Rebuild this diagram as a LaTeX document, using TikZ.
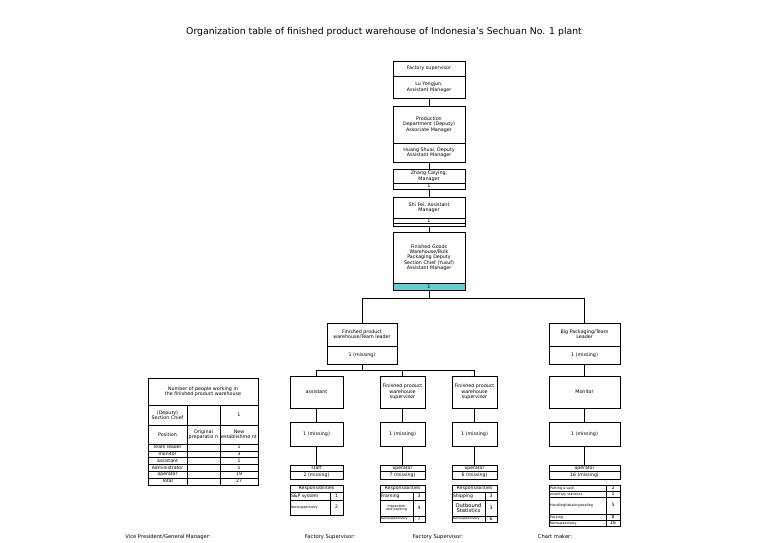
\documentclass[tikz,border=0pt]{standalone}
\usepackage{fontspec}
\setmainfont{DejaVu Sans}
\newcommand\myNoHy{\hyphenpenalty10000\exhyphenpenalty10000\relax}
\begin{document}
\begin{tikzpicture}[x=1pt,y=-1pt,
 bx/.style={draw,line width=0.6pt,inner sep=0.3pt,align=center,font={\fontsize{4.8}{5.4}\selectfont\myNoHy}},
 ln/.style={line width=0.6pt}]
\useasboundingbox (0,0) rectangle (768,543);
\node[font=\fontsize{9.3}{11}\selectfont] (title) at (384,32) {Organization table of finished product warehouse of Indonesia's Sechuan No. 1 plant};
% top chain
\node[bx,minimum width=72,minimum height=15] (a1) at (429,68.5) {Factory supervisor};
\node[bx,minimum width=72,minimum height=22,text width=58] (a2) at (429,87) {Lu Yongjun, Assistant Manager};
\node[bx,minimum width=72,minimum height=37,text width=68] (b1) at (429,124.5) {Production Department (Deputy) Associate Manager};
\node[bx,minimum width=72,minimum height=19,text width=66] (b2) at (429,152.5) {Huang Shuai, Deputy Assistant Manager};
\node[bx,minimum width=72,minimum height=14,text width=50] (c1) at (429,176) {Zhang Caiying, Manager};
\node[bx,minimum width=72,minimum height=6] (c2) at (429,186) {1};
\node[bx,minimum width=72,minimum height=21,text width=58] (d1) at (429,207.5) {Shi Fei, Assistant Manager};
\node[bx,minimum width=72,minimum height=5] (d2) at (429,220.5) {1};
\node[bx,minimum width=72,minimum height=3] (d3) at (429,224.5) {};
\node[bx,minimum width=72,minimum height=51,text width=62] (e1) at (429,257.5) {Finished Goods Warehouse/Bulk Packaging Deputy Section Chief (Yusuf) Assistant Manager};
\node[bx,fill=cyan!70!green!60,minimum width=72,minimum height=7] (e2) at (429,286.5) {1};
\draw[ln] (a2.south)--(b1.north) (b2.south)--(c1.north) (c2.south)--(d1.north) (d3.south)--(e1.north);
% level 2
\node[bx,minimum width=70,minimum height=23,text width=58] (f1) at (362,334.5) {Finished product warehouse/Team leader};
\node[bx,minimum width=70,minimum height=18] (f2) at (362,355) {1 (missing)};
\node[bx,minimum width=71,minimum height=23,text width=64] (g1) at (584.5,334.5) {Big Packaging/Team Leader};
\node[bx,minimum width=71,minimum height=18] (g2) at (584.5,355) {1 (missing)};
\coordinate (j1) at (429,298);
\draw[ln] (e2.south)--(j1) (f1.north)|-(j1) (g1.north)|-(j1);
% level 3
\node[bx,minimum width=53,minimum height=32] (h1) at (316.5,392) {assistant};
\node[bx,minimum width=45,minimum height=32,text width=43] (h2) at (402.5,392) {Finished product warehouse supervisor};
\node[bx,minimum width=45,minimum height=32,text width=43] (h3) at (474.5,392) {Finished product warehouse supervisor};
\node[bx,minimum width=71,minimum height=32] (h4) at (584.5,392) {Monitor};
\coordinate (j2) at (362,370);
\draw[ln] (f2.south)--(j2) (h1.north)|-(j2) (h3.north)|-(j2) (h2.north)--(h2.north|-j2);
\draw[ln] (g2.south)--(h4.north);
\foreach \n/\x/\w in {1/316.5/53,2/402.5/45,3/474.5/45,4/584.5/71}{
 \node[bx,minimum width=\w,minimum height=24] (m\n) at (\x,434) {1 (missing)};
 \draw[ln] (h\n.south)--(m\n.north);
}
\tikzset{sm/.style={bx,font=\fontsize{4.6}{4.6}\selectfont,text height=3.2pt,text depth=0.6pt,inner sep=0pt}}
\node[sm,minimum width=53,minimum height=6] (s1) at (316.5,468) {staff};
\node[sm,minimum width=53,minimum height=8] (t1) at (316.5,475) {2 (missing)};
\node[sm,minimum width=45,minimum height=6] (s2) at (402.5,468) {operator};
\node[sm,minimum width=45,minimum height=8] (t2) at (402.5,475) {7 (missing)};
\node[sm,minimum width=45,minimum height=6] (s3) at (474.5,468) {operator};
\node[sm,minimum width=45,minimum height=8] (t3) at (474.5,475) {6 (missing)};
\node[sm,minimum width=71,minimum height=6] (s4) at (584.5,468) {operator};
\node[sm,minimum width=71,minimum height=8] (t4) at (584.5,475) {16 (missing)};
\foreach \n in {1,2,3,4}{\draw[ln] (m\n.south)--(s\n.north);}
% responsibility tables
\tikzset{rc/.style={bx,font=\fontsize{3.4}{3.8}\selectfont,align=left},rn/.style={sm}}
% assistant
\node[sm,minimum width=53,minimum height=7] (r1h) at (316.5,488.5) {Responsibilities};
\node[rc,minimum width=40,minimum height=8,text width=38,font=\fontsize{4.6}{5}\selectfont] (r1a) at (310,496) {S\&P system};
\node[rn,minimum width=13,minimum height=8] (r1an) at (336.5,496) {1};
\node[rc,minimum width=40,minimum height=15,text width=38] (r1b) at (310,507.5) {Nonsupervisory};
\node[rn,minimum width=13,minimum height=15] (r1bn) at (336.5,507.5) {2};
% sup 1
\node[sm,minimum width=45,minimum height=7] (r2h) at (402.5,488.5) {Responsibilities};
\node[rc,minimum width=33,minimum height=8,text width=31,font=\fontsize{4.6}{5}\selectfont] (r2a) at (396.5,496) {Framing};
\node[rn,minimum width=12,minimum height=8] (r2an) at (419,496) {3};
\node[rc,minimum width=33,minimum height=16,text width=31,align=center] (r2b) at (396.5,508) {Inspection and packing};
\node[rn,minimum width=12,minimum height=16] (r2bn) at (419,508) {4};
\node[rc,minimum width=33,minimum height=6,text width=31] (r2c) at (396.5,519) {Nonsupervisory};
\node[rn,minimum width=12,minimum height=6] (r2cn) at (419,519) {7};
% sup 2
\node[sm,minimum width=45,minimum height=7] (r3h) at (474.5,488.5) {Responsibilities};
\node[rc,minimum width=33,minimum height=8,text width=31,font=\fontsize{4.6}{5}\selectfont] (r3a) at (468.5,496) {Shipping};
\node[rn,minimum width=12,minimum height=8] (r3an) at (491,496) {3};
\node[rc,minimum width=33,minimum height=16,text width=31,align=center,font=\fontsize{5.2}{5.8}\selectfont] (r3b) at (468.5,508) {Outbound Statistics};
\node[rn,minimum width=12,minimum height=16] (r3bn) at (491,508) {3};
\node[rc,minimum width=33,minimum height=6,text width=31] (r3c) at (468.5,519) {Nonsupervisory};
\node[rn,minimum width=12,minimum height=6] (r3cn) at (491,519) {6};
% monitor table
\tikzset{rd/.style={rc,text height=2.6pt,text depth=0.5pt,inner sep=0.5pt}}
\node[rd,minimum width=57,minimum height=6,text width=55] (r4a) at (577.5,488) {Putting a sack};
\node[rn,minimum width=14,minimum height=6] (r4an) at (613,488) {2};
\node[rd,minimum width=57,minimum height=6,text width=55] (r4b) at (577.5,494) {Inventory statistics};
\node[rn,minimum width=14,minimum height=6] (r4bn) at (613,494) {1};
\node[rd,minimum width=57,minimum height=17,text width=55] (r4c) at (577.5,505.5) {Handling/labeling/sealing};
\node[rn,minimum width=14,minimum height=17] (r4cn) at (613,505.5) {5};
\node[rd,minimum width=57,minimum height=6,text width=55] (r4d) at (577.5,517) {Packing};
\node[rn,minimum width=14,minimum height=6] (r4dn) at (613,517) {8};
\node[rd,minimum width=57,minimum height=6,text width=55] (r4e) at (577.5,523) {Nonsupervisory};
\node[rn,minimum width=14,minimum height=6] (r4en) at (613,523) {16};
% left summary table
\node[bx,minimum width=110,minimum height=27,text width=92] (L0) at (203,391.5) {Number of people working in the finished product warehouse};
\node[bx,minimum width=39,minimum height=20,text width=37] (L1a) at (167.5,415) {(Deputy) Section Chief};
\node[bx,minimum width=33,minimum height=20] (L1b) at (203.5,415) {};
\node[bx,minimum width=38,minimum height=20] (L1c) at (239,415) {1};
\node[bx,minimum width=39,minimum height=19] (L2a) at (167.5,434.5) {Position};
\node[bx,minimum width=33,minimum height=19,text width=32] (L2b) at (203.5,434.5) {Original preparatio n};
\node[bx,minimum width=38,minimum height=19,text width=37] (L2c) at (239,434.5) {New establishme nt};
\foreach \i/\p/\v in {0/Team leader/1,1/monitor/3,2/assistant/1,3/Administrator/1,4/operator/19,5/Total/27}{
 \node[sm,minimum width=39,minimum height=6.8] (P\i) at (167.5,447.4+6.8*\i) {\p};
 \node[sm,minimum width=33,minimum height=6.8] (O\i) at (203.5,447.4+6.8*\i) {};
 \node[sm,minimum width=38,minimum height=6.8] (N\i) at (239,447.4+6.8*\i) {\v};
}
% footer
\tikzset{ft/.style={font=\fontsize{5.2}{6}\selectfont}}
\node[ft] (v1) at (168,537) {Vice President/General Manager:};
\node[ft] (v2) at (330,537) {Factory Supervisor:};
\node[ft] (v3) at (438,537) {Factory Supervisor:};
\node[ft] (v4) at (555,537) {Chart maker:};
\end{tikzpicture}
\end{document}
